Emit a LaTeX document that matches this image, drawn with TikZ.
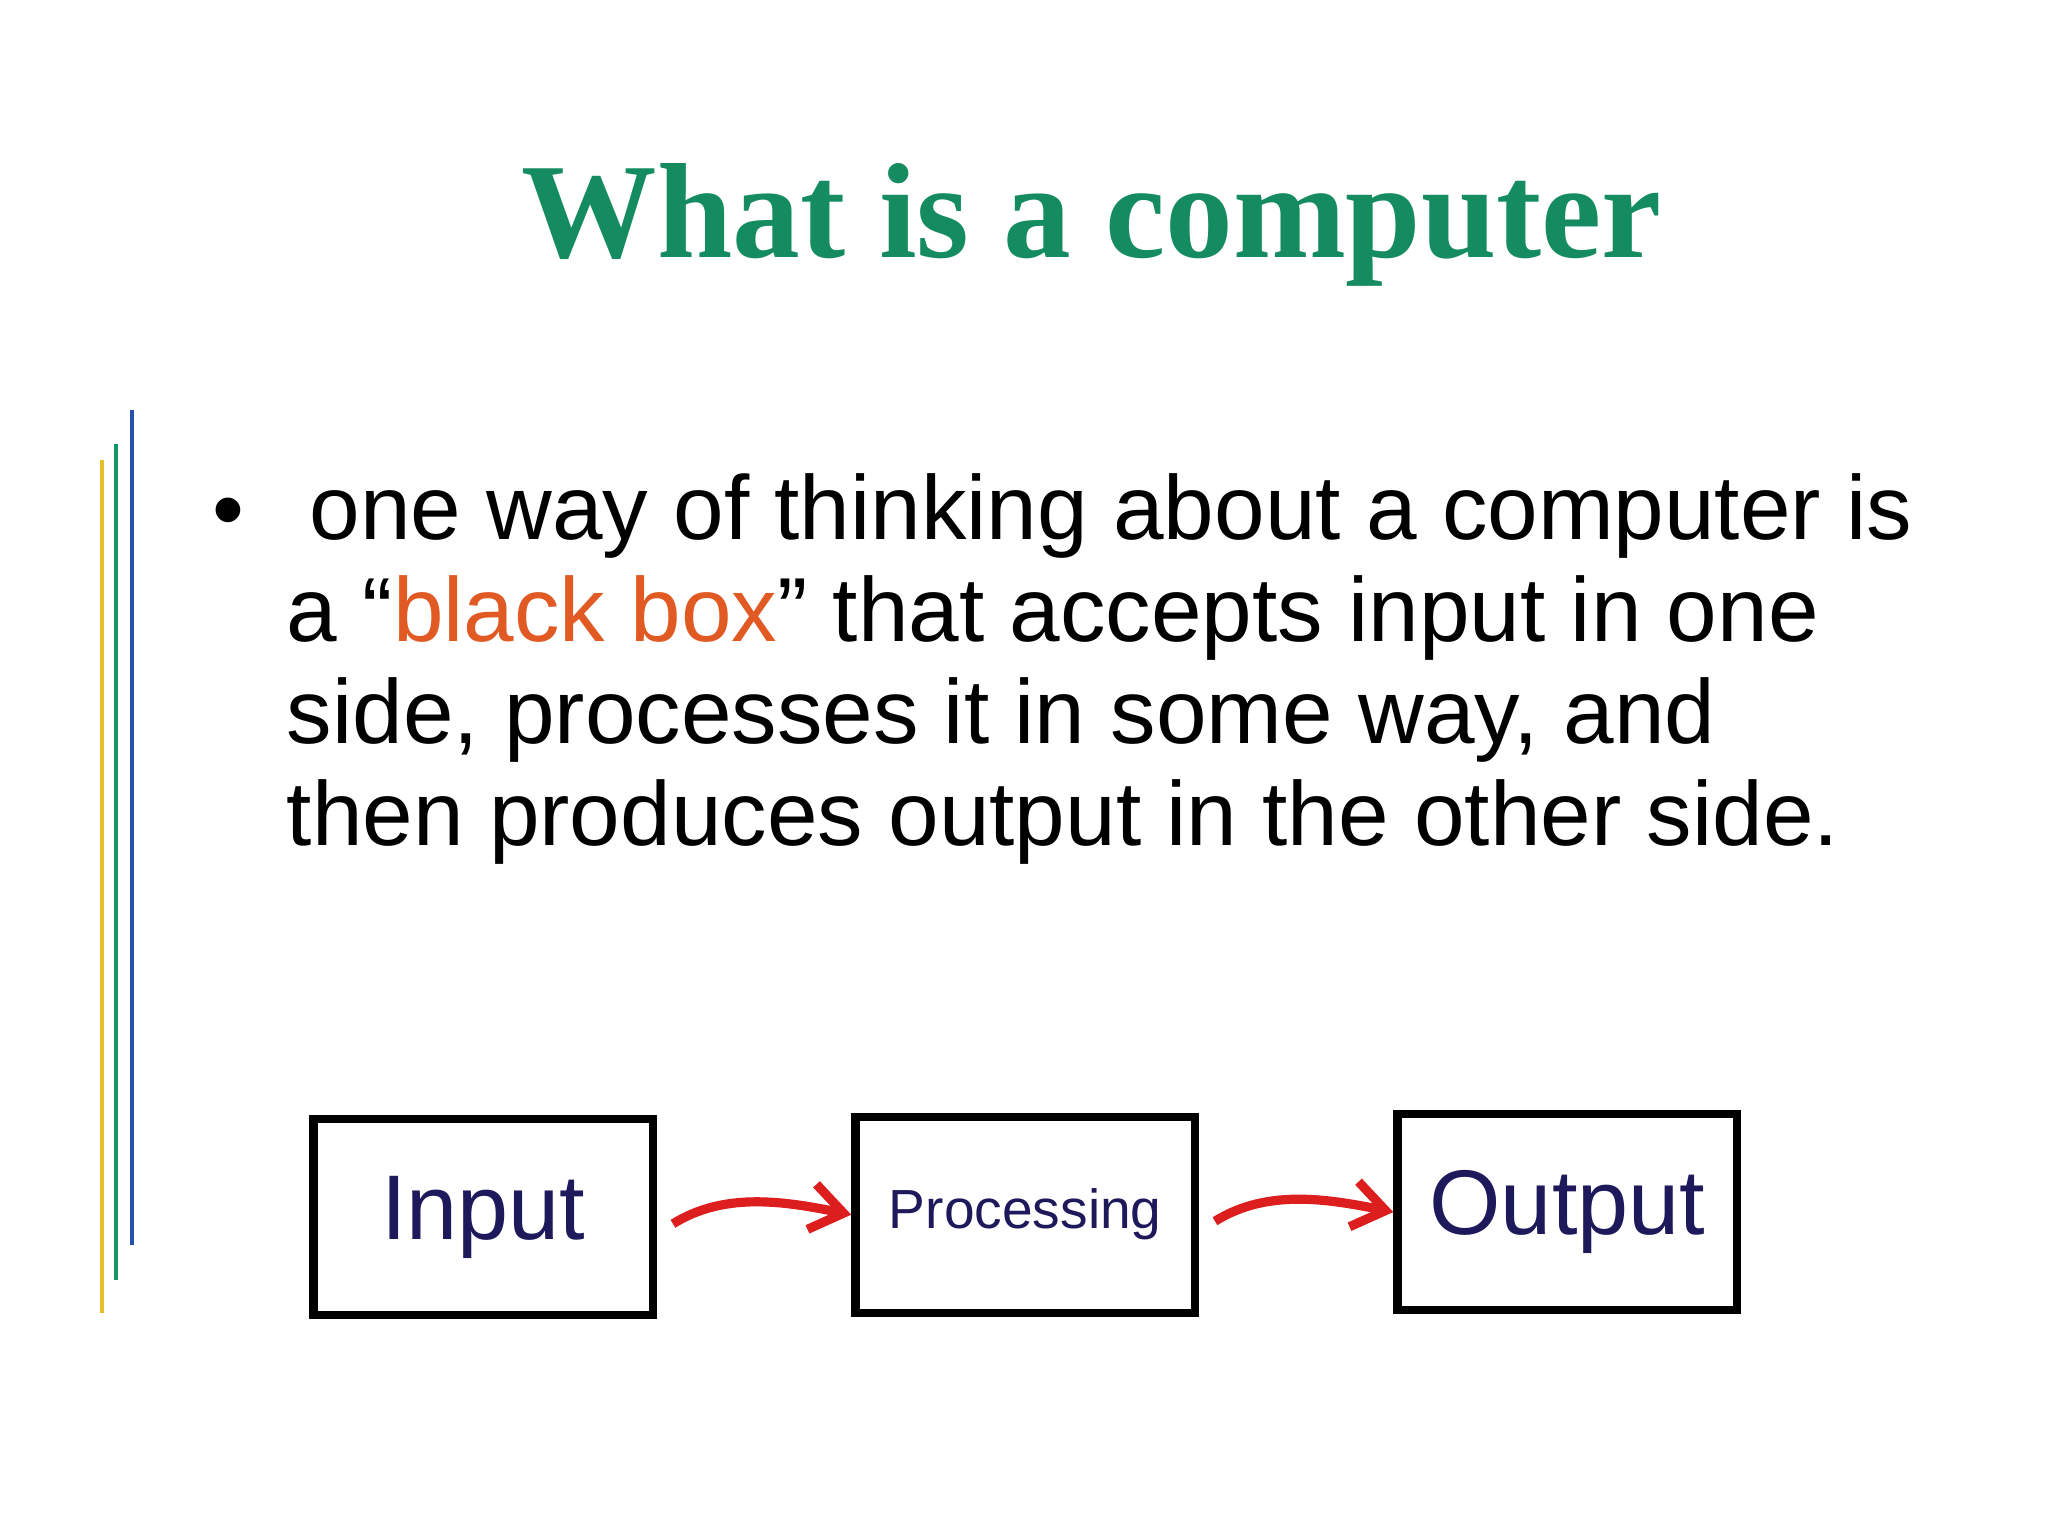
\documentclass[tikz,border=0pt]{standalone}
\usepackage{fontspec}
\setmainfont{Liberation Sans}
\newfontfamily\titlefont{Liberation Serif}
\usetikzlibrary{arrows.meta}
\definecolor{ttlgreen}{RGB}{20,140,95}
\definecolor{bbox}{RGB}{225,90,35}
\definecolor{hand}{RGB}{30,25,90}
\tikzset{
  px/.style={x=0.01cm,y=-0.01cm},
  ibox/.style={draw=black,line width=1.8pt,minimum width=2.6cm,minimum height=1.5cm,font=\fontsize{20}{24}\selectfont,text=hand},
  rarrow/.style={draw={rgb,255:red,220;green,30;blue,30},line width=2pt,-{Straight Barb[length=7pt,width=10pt]}}
}
\begin{document}
\begin{tikzpicture}[px]
\useasboundingbox (0,0) rectangle (1568,1176);
\fill[white] (0,0) rectangle (1568,1176);
\node[font=\titlefont\bfseries\fontsize{29.5}{32}\selectfont,text=ttlgreen] (title) at (836,172) {What is a computer};
\draw[color={rgb,255:red,230;green,190;blue,40},line width=0.8pt] (78,352) -- (78,1005);
\draw[color={rgb,255:red,20;green,150;blue,100},line width=0.8pt] (89,340) -- (89,980);
\draw[color={rgb,255:red,40;green,80;blue,170},line width=0.8pt] (101,314) -- (101,953);
\node[anchor=base west,inner sep=0pt,font=\fontsize{19.8}{22}\selectfont] (bul) at (162,414) {\textbullet};
\node[anchor=north west,inner sep=0pt,align=left,font=\fontsize{19.8}{22.2}\selectfont] (body) at (219,362)
{\hspace{0.25em}one way of thinking about a computer is\\
a “\textcolor{bbox}{black box}” that accepts input in one\\
side, processes it in some way, and\\
then produces output in the other side.};
\node[ibox] (in) at (370,932) {Input};
\node[ibox,font=\fontsize{12}{14}\selectfont] (proc) at (785,930) {Processing};
\node[ibox] (out) at (1200,928) {Output};
\draw[rarrow] (in.east) ++(12,5) .. controls +(40,-25) and +(-50,-10) .. (proc.west);
\draw[rarrow] (proc.east) ++(12,5) .. controls +(40,-25) and +(-50,-10) .. (out.west);
\end{tikzpicture}
\end{document}
